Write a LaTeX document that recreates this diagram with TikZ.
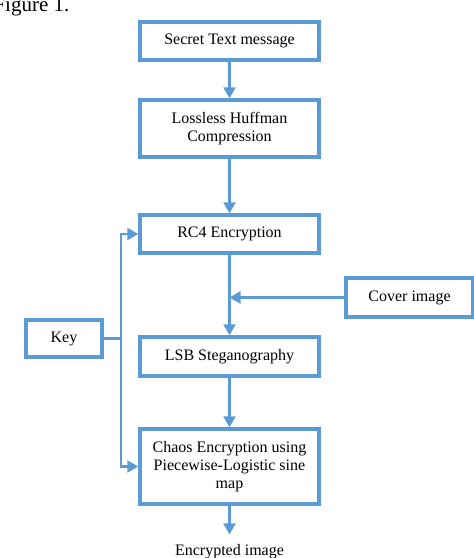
\documentclass[tikz,border=0pt]{standalone}
\usepackage{fontspec}
\setmainfont{Liberation Serif}
\usepackage{tikz}
\usetikzlibrary{arrows.meta}
\definecolor{flowblue}{RGB}{91,155,213}

\begin{document}
\begin{tikzpicture}[x=1pt, y=-1pt,
    box/.style={draw=flowblue, line width=3.5pt, fill=white, align=center,
        minimum width=179pt, inner sep=2pt, font=\fontsize{16}{18}\selectfont},
    arr/.style={draw=flowblue, line width=2.5pt, -{Triangle[width=12pt,length=11pt]}},
    line/.style={draw=flowblue, line width=2.5pt}]
    \useasboundingbox (0,0) rectangle (474,558);
    \node[anchor=base west, font=\fontsize{21}{24}\selectfont] (fig) at (-10,11) {Figure 1.};
    \node[box, minimum height=38pt] (secret) at (229.5,41) {Secret Text message};
    \node[box, minimum height=57pt] (huff) at (229.5,128.5) {Lossless Huffman\\Compression};
    \node[box, minimum height=38pt] (rc4) at (229.5,234) {RC4 Encryption};
    \node[box, minimum height=39pt, minimum width=127pt] (cover) at (409.5,297.5) {Cover image};
    \node[box, minimum height=37pt, minimum width=76pt] (key) at (64,338.5) {Key};
    \node[box, minimum height=39pt] (lsb) at (229.5,356.5) {LSB Steganography};
    \node[box, minimum height=75pt] (chaos) at (229.5,466.5) {Chaos Encryption using\\Piecewise-Logistic sine\\map};
    \node[anchor=base, font=\fontsize{16}{18}\selectfont] (enc) at (229.5,555) {Encrypted image};
    \coordinate (bus) at (121,338.5);
    \coordinate (join) at (rc4 |- cover);
    \draw[arr] (secret) -- (huff);
    \draw[arr] (huff) -- (rc4);
    \draw[arr] (rc4) -- (lsb);
    \draw[arr] (cover) -- (join);
    \draw[arr] (lsb) -- (chaos);
    \draw[arr, shorten >=6pt] (chaos) -- (enc);
    \draw[line] (key) -- (bus);
    \draw[arr] (bus) |- (rc4.west);
    \draw[arr] (bus) |- (chaos.west);
\end{tikzpicture}
\end{document}
